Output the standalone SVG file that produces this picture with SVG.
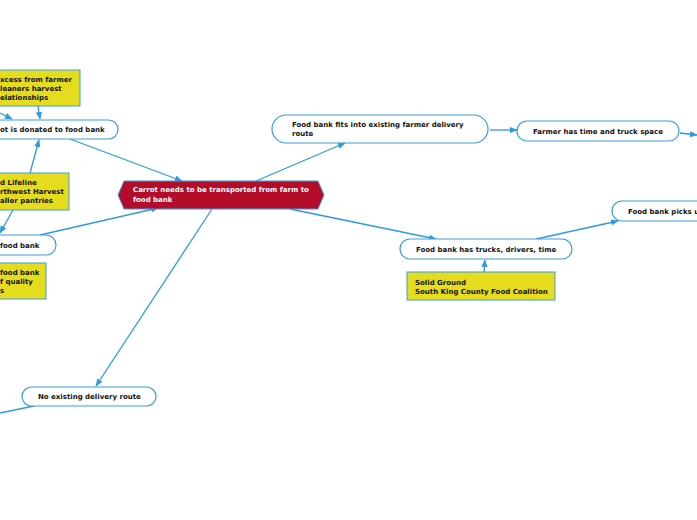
<svg xmlns="http://www.w3.org/2000/svg" width="697" height="520" viewBox="0 0 697 520">
<style>
text{font-family:"DejaVu Sans",Verdana,sans-serif;font-weight:bold;font-size:7px;fill:#111}
.n{fill:#fff;stroke:#3a9de0;stroke-width:1.2}
.y{fill:#e5dc1e;stroke:#3a9de0;stroke-width:1}
.c{stroke:#2d9be0;stroke-width:1.3;fill:none}
</style>
<defs><marker id="a" viewBox="0 0 10 10" refX="9" refY="5" markerWidth="6" markerHeight="6" orient="auto"><path d="M0,1 L10,5 L0,9 Z" fill="#2d9be0"/></marker></defs>
<rect width="697" height="520" fill="#fff"/>
<g id="connectors">
<line class="c" x1="38" y1="106" x2="40" y2="119" marker-end="url(#a)"/>
<line class="c" x1="0" y1="113" x2="12" y2="119" marker-end="url(#a)"/>
<line class="c" x1="70" y1="139" x2="182" y2="181" marker-end="url(#a)"/>
<line class="c" x1="30" y1="173" x2="39" y2="140" marker-end="url(#a)"/>
<line class="c" x1="13" y1="210" x2="0" y2="233" marker-end="url(#a)"/>
<line class="c" x1="40" y1="235" x2="158" y2="208" marker-end="url(#a)"/>
<line class="c" x1="212" y1="209" x2="96" y2="386" marker-end="url(#a)"/>
<line class="c" x1="34" y1="406" x2="0" y2="413"/>
<line class="c" x1="256" y1="181" x2="345" y2="143" marker-end="url(#a)"/>
<line class="c" x1="490" y1="130" x2="517" y2="130" marker-end="url(#a)"/>
<line class="c" x1="680" y1="133" x2="697" y2="135" marker-end="url(#a)"/>
<line class="c" x1="290" y1="209" x2="436" y2="239" marker-end="url(#a)"/>
<line class="c" x1="536" y1="239" x2="618" y2="221" marker-end="url(#a)"/>
<line class="c" x1="484" y1="272" x2="485" y2="260" marker-end="url(#a)"/>
</g>
<g id="central"><path d="M118,195 L124,181 L318,181 L324,195 L318,209 L124,209 Z" fill="#b30d2a" stroke="#3a9de0" stroke-width="1"/>
<text x="133" y="192" style="fill:#fff">Carrot needs to be transported from farm to</text><text x="133" y="202" style="fill:#fff">food bank</text></g>
<g id="donated"><rect class="n" x="-20" y="120" width="138" height="19" rx="9.5"/><text x="0" y="132">ot is donated to food bank</text></g>
<g id="excess"><rect class="y" x="-5" y="70" width="85" height="36"/><text x="0" y="82">xcess from farmer</text><text x="0" y="91">leaners harvest</text><text x="0" y="100">elationships</text></g>
<g id="lifeline"><rect class="y" x="-5" y="173" width="74" height="37"/><text x="0" y="185">d Lifeline</text><text x="0" y="194">rthwest Harvest</text><text x="0" y="203">aller pantries</text></g>
<g id="foodbank-left"><rect class="n" x="-20" y="235" width="76" height="20" rx="10"/><text x="0" y="248">food bank</text></g>
<g id="quality"><rect class="y" x="-5" y="263" width="51" height="36"/><text x="0" y="275">food bank</text><text x="0" y="284">f quality</text><text x="0" y="293">s</text></g>
<g id="no-route"><rect class="n" x="22" y="387" width="134" height="19" rx="9.5"/><text x="38" y="399">No existing delivery route</text></g>
<g id="fits"><rect class="n" x="272" y="115" width="216" height="28" rx="14"/><text x="292" y="127">Food bank fits into existing farmer delivery</text><text x="292" y="136">route</text></g>
<g id="farmer-time"><rect class="n" x="517" y="121" width="162" height="20" rx="10"/><text x="533" y="134">Farmer has time and truck space</text></g>
<g id="picks"><rect class="n" x="612" y="201" width="110" height="20" rx="10"/><text x="628" y="214">Food bank picks up</text></g>
<g id="trucks"><rect class="n" x="400" y="239" width="172" height="20" rx="10"/><text x="416" y="252">Food bank has trucks, drivers, time</text></g>
<g id="solid"><rect class="y" x="407" y="272" width="148" height="28"/><text x="415" y="285">Solid Ground</text><text x="415" y="294">South King County Food Coalition</text></g>
</svg>
